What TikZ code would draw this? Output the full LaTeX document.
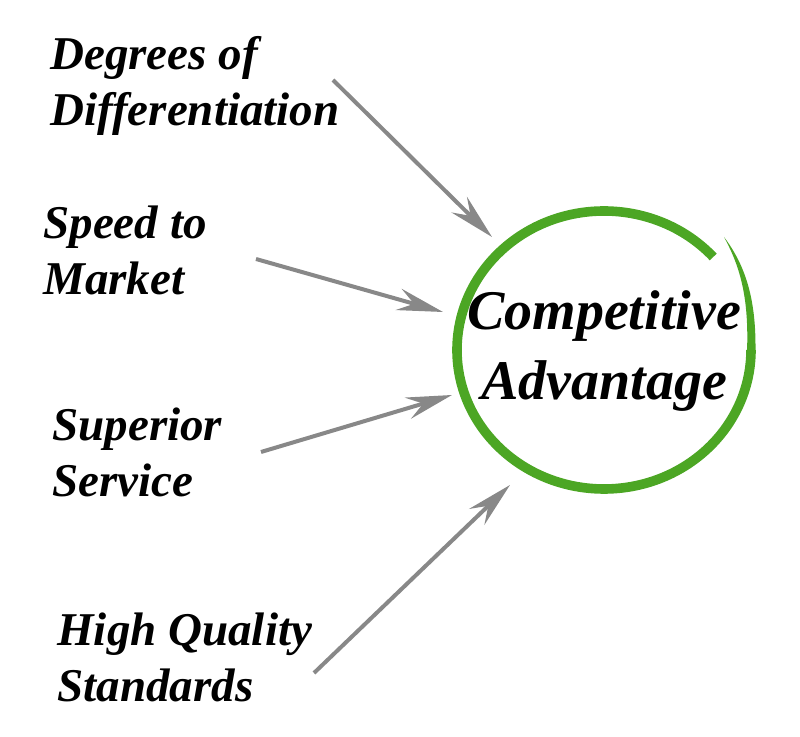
\documentclass[tikz,border=0pt]{standalone}
\usepackage{fontspec}
\setmainfont{Liberation Serif}
\usetikzlibrary{arrows.meta}
\definecolor{ringgreen}{RGB}{76,166,36}
\definecolor{arrgray}{RGB}{136,136,136}
\begin{document}
\begin{tikzpicture}[x=0.5pt,y=-0.5pt,
  lbl/.style={anchor=base west,align=left,inner sep=0pt,
    font=\fontsize{23.5}{28}\selectfont\bfseries\itshape},
  ptr/.style={draw=arrgray,line width=2pt,
    -{Stealth[length=23pt,width=11pt,inset=8pt]}},
  ring/.style={draw=ringgreen,line width=4.8pt}]
  \useasboundingbox (0,0) rectangle (800,737);
  % hand drawn ring
  \draw[ring] (604,350) ++(-42:147 and 139)
    arc[start angle=-42,end angle=-360,x radius=147,y radius=139];
  \fill[ringgreen] (755.5,350) .. controls (756,300) and (746,266) .. (724,237)
    .. controls (741,268) and (749,300) .. (747,352) -- cycle;
  \node[anchor=base,align=center,inner sep=0pt,
    font=\fontsize{28}{35}\selectfont\bfseries\itshape] (adv) at (604,400)
    {Competitive\\Advantage};
  % the four factors (base = last line)
  \node[lbl] (deg) at (50,126) {Degrees of\\Differentiation};
  \node[lbl] (spd) at (43,295) {Speed to\\Market};
  \node[lbl] (sup) at (52,497) {Superior\\Service};
  \node[lbl] (hq) at (57,702) {High Quality\\Standards};
  \coordinate (deg-s) at (333,80);  \coordinate (deg-e) at (492,237);
  \coordinate (spd-s) at (256,259); \coordinate (spd-e) at (443,312);
  \coordinate (sup-s) at (261,452); \coordinate (sup-e) at (452,395);
  \coordinate (hq-s) at (314,673);  \coordinate (hq-e) at (510,485);
  \draw[ptr] (deg-s) -- (deg-e);
  \draw[ptr] (spd-s) -- (spd-e);
  \draw[ptr] (sup-s) -- (sup-e);
  \draw[ptr] (hq-s) -- (hq-e);
\end{tikzpicture}
\end{document}
